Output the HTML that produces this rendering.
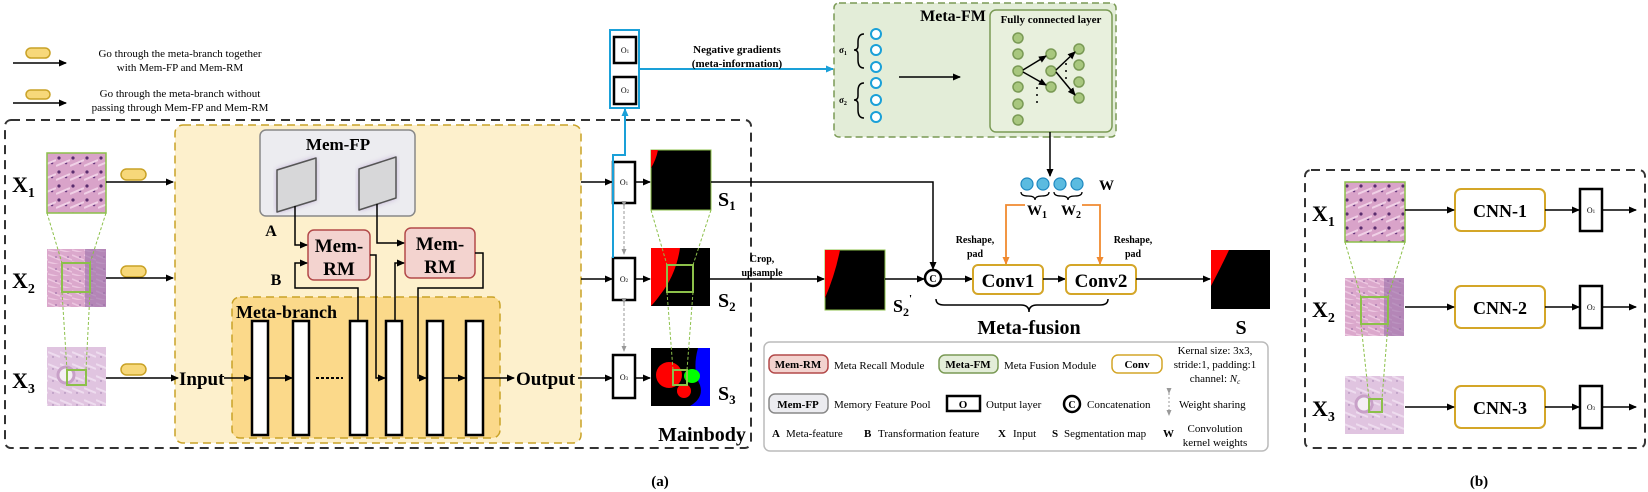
<!DOCTYPE html>
<html><head><meta charset="utf-8"><style>
html,body{margin:0;padding:0;background:#fff;}
svg{display:block;font-family:"Liberation Serif",serif;}
.b{font-weight:bold;}
</style></head><body>
<svg width="1648" height="492" viewBox="0 0 1648 492" xmlns="http://www.w3.org/2000/svg">
<defs>
<marker id="ar" markerWidth="8" markerHeight="8" refX="7" refY="4" orient="auto" markerUnits="userSpaceOnUse"><path d="M0,0.5 L8,4 L0,7.5z" fill="#000"/></marker>
<marker id="arb" markerWidth="8" markerHeight="8" refX="7" refY="4" orient="auto" markerUnits="userSpaceOnUse"><path d="M0,0.5 L8,4 L0,7.5z" fill="#1aa0d8"/></marker>
<marker id="aro" markerWidth="8" markerHeight="8" refX="7" refY="4" orient="auto" markerUnits="userSpaceOnUse"><path d="M0,0.5 L8,4 L0,7.5z" fill="#f08a30"/></marker>
<marker id="arg" markerWidth="6" markerHeight="6" refX="5" refY="3" orient="auto" markerUnits="userSpaceOnUse"><path d="M0,0.5 L6,3 L0,5.5z" fill="#999"/></marker>
<pattern id="h1" width="14" height="14" patternUnits="userSpaceOnUse"><rect width="14" height="14" fill="#d9a3c9"/><circle cx="3" cy="4" r="1.6" fill="#5a2d6e"/><circle cx="10" cy="9" r="1.3" fill="#6b3a80"/><path d="M0,12 L14,6" stroke="#f0d0e6" stroke-width="2"/></pattern>
<pattern id="h2" width="12" height="12" patternUnits="userSpaceOnUse"><rect width="12" height="12" fill="#dba8cc"/><path d="M0,3 L12,8 M0,10 L12,13" stroke="#ecc6e0" stroke-width="1.5"/><circle cx="8" cy="5" r="0.8" fill="#8a5a9a"/></pattern>
<pattern id="h3" width="12" height="12" patternUnits="userSpaceOnUse"><rect width="12" height="12" fill="#e0c4e0"/><path d="M0,4 L12,9" stroke="#eedcef" stroke-width="2"/><circle cx="5" cy="9" r="0.7" fill="#9a7aaa"/></pattern>
<filter id="gl"><feGaussianBlur stdDeviation="3"/></filter>
</defs>

<!-- top-left legend -->
<rect x="26" y="48" width="24" height="10" rx="5" fill="#f7d87a" stroke="#c9a227" stroke-width="1.5"/>
<line x1="13" y1="63" x2="66" y2="63" stroke="#000" stroke-width="1.5" marker-end="url(#ar)"/>
<text x="180" y="57" font-size="11" text-anchor="middle">Go through the meta-branch together</text>
<text x="180" y="71" font-size="11" text-anchor="middle">with Mem-FP and Mem-RM</text>
<rect x="26" y="90" width="24" height="9" rx="4.5" fill="#f7d87a" stroke="#c9a227" stroke-width="1.5"/>
<line x1="13" y1="103" x2="66" y2="103" stroke="#000" stroke-width="1.5" marker-end="url(#ar)"/>
<text x="180" y="97" font-size="11" text-anchor="middle">Go through the meta-branch without</text>
<text x="180" y="111" font-size="11" text-anchor="middle">passing through Mem-FP and Mem-RM</text>

<!-- Mainbody -->
<rect x="5" y="120" width="746" height="328" rx="6" fill="none" stroke="#333" stroke-width="2" stroke-dasharray="9,6"/>
<text x="702" y="441" font-size="20" class="b" text-anchor="middle">Mainbody</text>
<rect x="175" y="125" width="406" height="318" rx="8" fill="#fdf0cc" stroke="#c9a227" stroke-width="1.5" stroke-dasharray="8,5"/>
<rect x="232" y="297" width="268" height="141" rx="8" fill="#fbd98a" stroke="#c9a227" stroke-width="1.5" stroke-dasharray="8,5"/>
<text x="236" y="318" font-size="18" class="b">Meta-branch</text>

<!-- Mem-FP -->
<rect x="260" y="130" width="155" height="86" rx="6" fill="#ececf0" stroke="#888" stroke-width="1.5"/>
<text x="338" y="150" font-size="17" class="b" text-anchor="middle">Mem-FP</text>
<polygon points="277,170 316,158 316,200 277,212" fill="#b9a4d0" filter="url(#gl)"/>
<polygon points="277,170 316,158 316,200 277,212" fill="#d7d7d9" stroke="#555" stroke-width="1.5" stroke-linejoin="round"/>
<polygon points="359,169 396,157 396,198 359,210" fill="#b9a4d0" filter="url(#gl)"/>
<polygon points="359,169 396,157 396,198 359,210" fill="#d7d7d9" stroke="#555" stroke-width="1.5" stroke-linejoin="round"/>
<text x="271" y="236" font-size="16" class="b" text-anchor="middle">A</text>
<text x="276" y="285" font-size="16" class="b" text-anchor="middle">B</text>

<!-- Mem-RM -->
<rect x="308" y="230" width="62" height="50" rx="6" fill="#f3d3cf" stroke="#b34a4a" stroke-width="1.5"/>
<text x="339" y="252" font-size="19" class="b" text-anchor="middle">Mem-</text>
<text x="339" y="275" font-size="19" class="b" text-anchor="middle">RM</text>
<rect x="405" y="228" width="70" height="50" rx="6" fill="#f3d3cf" stroke="#b34a4a" stroke-width="1.5"/>
<text x="440" y="250" font-size="19" class="b" text-anchor="middle">Mem-</text>
<text x="440" y="273" font-size="19" class="b" text-anchor="middle">RM</text>

<g fill="none" stroke="#000" stroke-width="1.5">
<path d="M295,206 V245 H307" marker-end="url(#ar)"/>
<path d="M377,204 V243 H404" marker-end="url(#ar)"/>
<path d="M358,321 V288 H295 V263 H307" marker-end="url(#ar)"/>
<path d="M370,255 H376 V378 H385" marker-end="url(#ar)"/>
<path d="M395,321 V263 H404" marker-end="url(#ar)"/>
<path d="M475,253 H483 V288 H418 V378 H426" marker-end="url(#ar)"/>
</g>

<!-- bars -->
<g fill="#fff" stroke="#000" stroke-width="2.5">
<rect x="252" y="321" width="16" height="114"/>
<rect x="293" y="321" width="16" height="114"/>
<rect x="350" y="321" width="17" height="114"/>
<rect x="386" y="321" width="16" height="114"/>
<rect x="427" y="321" width="16" height="114"/>
<rect x="466" y="321" width="17" height="114"/>
</g>
<text x="179" y="385" font-size="19" class="b">Input</text>
<text x="516" y="385" font-size="19" class="b">Output</text>
<g stroke="#000" stroke-width="1.5" marker-end="url(#ar)">
<line x1="224" y1="378" x2="251" y2="378"/>
<line x1="268" y1="378" x2="292" y2="378"/>
<line x1="443" y1="378" x2="465" y2="378"/>
<line x1="483" y1="378" x2="514" y2="378"/>
</g>
<line x1="316" y1="378" x2="343" y2="378" stroke="#000" stroke-width="2" stroke-dasharray="3,2"/>

<!-- inputs -->
<rect x="47" y="153" width="59" height="60" fill="url(#h1)" stroke="#8cc04a" stroke-width="1.5"/>
<rect x="47" y="249" width="59" height="58" fill="url(#h2)"/>
<rect x="85" y="249" width="21" height="58" fill="#9a6fa8" opacity="0.6"/>
<rect x="47" y="347" width="59" height="59" fill="url(#h3)"/>
<circle cx="66" cy="375" r="8" fill="#f4eef4" stroke="#c8a0c8" stroke-width="3"/>
<rect x="62" y="263" width="28" height="29" fill="none" stroke="#8cc04a" stroke-width="2"/>
<rect x="67" y="370" width="19" height="15" fill="none" stroke="#8cc04a" stroke-width="2"/>
<g stroke="#8cc04a" stroke-width="1" stroke-dasharray="3,2" fill="none">
<line x1="47" y1="213" x2="62" y2="263"/><line x1="106" y1="213" x2="90" y2="263"/>
<line x1="62" y1="292" x2="67" y2="370"/><line x1="90" y1="292" x2="86" y2="370"/>
</g>
<g class="b" font-size="22">
<text x="12" y="192">X<tspan font-size="14" dy="5">1</tspan></text>
<text x="12" y="288">X<tspan font-size="14" dy="5">2</tspan></text>
<text x="12" y="388">X<tspan font-size="14" dy="5">3</tspan></text>
</g>
<g fill="#f7d87a" stroke="#c9a227" stroke-width="1.5">
<rect x="121" y="169" width="25" height="11" rx="5.5"/>
<rect x="121" y="266" width="25" height="11" rx="5.5"/>
<rect x="121" y="364" width="25" height="11" rx="5.5"/>
</g>
<g stroke="#000" stroke-width="1.5" marker-end="url(#ar)">
<line x1="106" y1="182" x2="173" y2="182"/>
<line x1="106" y1="278" x2="173" y2="278"/>
<line x1="106" y1="378" x2="178" y2="378"/>
<line x1="581" y1="182" x2="612" y2="182"/>
<line x1="581" y1="279" x2="612" y2="279"/>
<line x1="578" y1="378" x2="612" y2="378"/>
<line x1="636" y1="182" x2="650" y2="182"/>
<line x1="636" y1="279" x2="650" y2="279"/>
<line x1="636" y1="378" x2="650" y2="378"/>
</g>

<!-- O boxes -->
<g fill="#fff" stroke="#000" stroke-width="2.5">
<rect x="613" y="162" width="22" height="41"/>
<rect x="613" y="258" width="22" height="42"/>
<rect x="613" y="355" width="22" height="43"/>
</g>
<g font-size="8" text-anchor="middle">
<text x="624" y="185">O<tspan font-size="5">1</tspan></text>
<text x="624" y="282">O<tspan font-size="5">2</tspan></text>
<text x="624" y="380">O<tspan font-size="5">3</tspan></text>
</g>
<g stroke="#999" stroke-width="1" stroke-dasharray="3,2">
<line x1="624" y1="206" x2="624" y2="254" marker-start="url(#arg)" marker-end="url(#arg)"/>
<line x1="624" y1="303" x2="624" y2="351" marker-start="url(#arg)" marker-end="url(#arg)"/>
</g>

<!-- S maps -->
<rect x="651" y="150" width="60" height="60" fill="#000" stroke="#8cc04a" stroke-width="1"/>
<path d="M651,150 H658 Q656,160 651,168 Z" fill="#f00"/>
<rect x="651" y="248" width="59" height="58" fill="#000"/>
<path d="M651,248 H680 Q676,275 660,295 Q655,302 651,306 Z" fill="#f00"/>
<rect x="667" y="265" width="26" height="27" fill="none" stroke="#8cc04a" stroke-width="2"/>
<rect x="651" y="348" width="59" height="58" fill="#000"/>
<path d="M698,348 H710 V406 H690 Q704,398 700,385 Q692,370 698,348Z" fill="#00f"/>
<circle cx="669" cy="375" r="13" fill="#f00"/>
<circle cx="684" cy="391" r="7" fill="#f00"/>
<ellipse cx="692" cy="376" rx="8" ry="7" fill="#0f0"/>
<rect x="673" y="370" width="14" height="15" fill="none" stroke="#8cc04a" stroke-width="2"/>
<g stroke="#8cc04a" stroke-width="1" stroke-dasharray="3,2" fill="none">
<line x1="651" y1="210" x2="667" y2="265"/><line x1="711" y1="210" x2="693" y2="265"/>
<line x1="667" y1="292" x2="673" y2="370"/><line x1="693" y1="292" x2="687" y2="370"/>
</g>
<g class="b" font-size="20">
<text x="718" y="206">S<tspan font-size="13" dy="4">1</tspan></text>
<text x="718" y="307">S<tspan font-size="13" dy="4">2</tspan></text>
<text x="718" y="400">S<tspan font-size="13" dy="4">3</tspan></text>
</g>

<!-- blue path & top O box -->
<path d="M613,258 V155 H625 V109" fill="none" stroke="#1aa0d8" stroke-width="2" marker-end="url(#arb)"/>
<rect x="610" y="30" width="29" height="78" fill="#fff" stroke="#1aa0d8" stroke-width="2"/>
<rect x="614" y="37" width="22" height="26" fill="#fff" stroke="#000" stroke-width="2.5"/>
<rect x="614" y="77" width="22" height="27" fill="#fff" stroke="#000" stroke-width="2.5"/>
<text x="625" y="53" font-size="8" text-anchor="middle">O<tspan font-size="5">1</tspan></text>
<text x="625" y="93" font-size="8" text-anchor="middle">O<tspan font-size="5">2</tspan></text>
<line x1="639" y1="69" x2="833" y2="69" stroke="#1aa0d8" stroke-width="2" marker-end="url(#arb)"/>
<text x="737" y="53" font-size="11" class="b" text-anchor="middle">Negative gradients</text>
<text x="737" y="67" font-size="11" class="b" text-anchor="middle">(meta-information)</text>

<!-- Meta-FM -->
<rect x="834" y="3" width="282" height="134" rx="5" fill="#e3edd8" stroke="#7a9a55" stroke-width="1.5" stroke-dasharray="7,4"/>
<text x="953" y="21" font-size="16" class="b" text-anchor="middle">Meta-FM</text>
<rect x="990" y="10" width="122" height="122" rx="6" fill="#e8f0dd" stroke="#7a9a55" stroke-width="1.5"/>
<text x="1051" y="23" font-size="11" class="b" text-anchor="middle">Fully connected layer</text>
<g fill="#fff" stroke="#1aa0d8" stroke-width="2">
<circle cx="876" cy="34" r="5"/><circle cx="876" cy="50" r="5"/><circle cx="876" cy="67" r="5"/>
<circle cx="876" cy="83" r="5"/><circle cx="876" cy="100" r="5"/><circle cx="876" cy="117" r="5"/>
</g>
<path d="M864,34 Q858,34 858,42 V46 Q858,50 854,50 Q858,50 858,54 V60 Q858,68 864,68" fill="none" stroke="#000" stroke-width="1.5"/>
<path d="M864,83 Q858,83 858,91 V96 Q858,100 854,100 Q858,100 858,104 V110 Q858,118 864,118" fill="none" stroke="#000" stroke-width="1.5"/>
<text x="839" y="53" font-size="9" class="b">σ<tspan font-size="6" dy="2">1</tspan></text>
<text x="839" y="103" font-size="9" class="b">σ<tspan font-size="6" dy="2">2</tspan></text>
<line x1="899" y1="77" x2="960" y2="77" stroke="#000" stroke-width="1.5" marker-end="url(#ar)"/>
<g fill="#a8c77e" stroke="#7a9a55" stroke-width="1.5">
<circle cx="1018" cy="38" r="5"/><circle cx="1018" cy="54" r="5"/><circle cx="1018" cy="71" r="5"/>
<circle cx="1018" cy="87" r="5"/><circle cx="1018" cy="104" r="5"/><circle cx="1018" cy="120" r="5"/>
<circle cx="1051" cy="54" r="5"/><circle cx="1051" cy="71" r="5"/><circle cx="1051" cy="87" r="5"/>
<circle cx="1079" cy="49" r="5"/><circle cx="1079" cy="65" r="5"/><circle cx="1079" cy="82" r="5"/><circle cx="1079" cy="98" r="5"/>
</g>
<g stroke="#000" stroke-width="1.5" marker-end="url(#ar)">
<line x1="1023" y1="70" x2="1046" y2="56"/><line x1="1023" y1="72" x2="1046" y2="85"/>
<line x1="1056" y1="70" x2="1075" y2="52"/><line x1="1056" y1="72" x2="1075" y2="95"/>
</g>
<g fill="#000"><circle cx="1037" cy="88" r="1"/><circle cx="1037" cy="95" r="1"/><circle cx="1037" cy="102" r="1"/>
<circle cx="1066" cy="64" r="1"/><circle cx="1066" cy="71" r="1"/><circle cx="1066" cy="78" r="1"/></g>
<line x1="1050" y1="132" x2="1050" y2="176" stroke="#000" stroke-width="1.5" marker-end="url(#ar)"/>

<!-- W -->
<g fill="#5bbbe0" stroke="#1e88c0" stroke-width="1.2">
<circle cx="1027" cy="184" r="6"/><circle cx="1043" cy="184" r="6"/><circle cx="1060" cy="184" r="6"/><circle cx="1077" cy="184" r="6"/>
</g>
<text x="1099" y="190" font-size="15" class="b">W</text>
<path d="M1021,192 Q1021,196 1028,196 Q1035,196 1035,200 Q1035,196 1042,196 Q1049,196 1049,192" fill="none" stroke="#000" stroke-width="1.3"/>
<path d="M1054,192 Q1054,196 1061,196 Q1068,196 1068,200 Q1068,196 1075,196 Q1082,196 1082,192" fill="none" stroke="#000" stroke-width="1.3"/>
<text x="1027" y="215" font-size="15" class="b">W<tspan font-size="10" dy="3">1</tspan></text>
<text x="1061" y="215" font-size="15" class="b">W<tspan font-size="10" dy="3">2</tspan></text>
<path d="M1025,205 H1006 V264" fill="none" stroke="#f08a30" stroke-width="1.8" marker-end="url(#aro)"/>
<path d="M1082,205 H1100 V264" fill="none" stroke="#f08a30" stroke-width="1.8" marker-end="url(#aro)"/>
<text x="975" y="243" font-size="10" class="b" text-anchor="middle">Reshape,</text>
<text x="975" y="257" font-size="10" class="b" text-anchor="middle">pad</text>
<text x="1133" y="243" font-size="10" class="b" text-anchor="middle">Reshape,</text>
<text x="1133" y="257" font-size="10" class="b" text-anchor="middle">pad</text>

<!-- fusion -->
<path d="M711,182 H933 V269" fill="none" stroke="#000" stroke-width="1.5" marker-end="url(#ar)"/>
<line x1="710" y1="279" x2="824" y2="279" stroke="#000" stroke-width="1.5" marker-end="url(#ar)"/>
<text x="762" y="262" font-size="10" class="b" text-anchor="middle">Crop,</text>
<text x="762" y="276" font-size="10" class="b" text-anchor="middle">upsample</text>
<rect x="825" y="250" width="60" height="60" fill="#000" stroke="#8cc04a" stroke-width="1"/>
<path d="M825,250 H840 Q835,275 825,298 Z" fill="#f00"/>
<text x="893" y="312" font-size="18" class="b">S<tspan font-size="12" dy="4">2</tspan><tspan font-size="11" dy="-14">'</tspan></text>
<line x1="885" y1="279" x2="924" y2="279" stroke="#000" stroke-width="1.5" marker-end="url(#ar)"/>
<circle cx="933" cy="278" r="8" fill="#fff" stroke="#000" stroke-width="2.5"/>
<text x="933" y="282" font-size="10" class="b" text-anchor="middle">C</text>
<line x1="941" y1="279" x2="972" y2="279" stroke="#000" stroke-width="1.5" marker-end="url(#ar)"/>
<rect x="973" y="265" width="70" height="29" rx="5" fill="#fff" stroke="#d4a628" stroke-width="2"/>
<text x="1008" y="287" font-size="19" class="b" text-anchor="middle">Conv1</text>
<line x1="1043" y1="279" x2="1065" y2="279" stroke="#000" stroke-width="1.5" marker-end="url(#ar)"/>
<rect x="1066" y="265" width="70" height="29" rx="5" fill="#fff" stroke="#d4a628" stroke-width="2"/>
<text x="1101" y="287" font-size="19" class="b" text-anchor="middle">Conv2</text>
<line x1="1136" y1="279" x2="1210" y2="279" stroke="#000" stroke-width="1.5" marker-end="url(#ar)"/>
<path d="M936,299 Q936,305 944,305 H1021 Q1029,305 1029,312 Q1029,305 1037,305 H1100 Q1108,305 1108,299" fill="none" stroke="#000" stroke-width="1.5"/>
<text x="1029" y="334" font-size="20" class="b" text-anchor="middle">Meta-fusion</text>
<rect x="1211" y="250" width="59" height="59" fill="#000"/>
<path d="M1211,250 H1229 Q1222,265 1211,286 Z" fill="#f00"/>
<text x="1241" y="334" font-size="20" class="b" text-anchor="middle">S</text>

<!-- legend box -->
<rect x="764" y="342" width="504" height="109" rx="6" fill="#fff" stroke="#bbb" stroke-width="1.5"/>
<g font-size="11">
<rect x="769" y="355" width="59" height="18" rx="6" fill="#f3d3cf" stroke="#b34a4a" stroke-width="1.5"/>
<text x="798" y="368" class="b" text-anchor="middle">Mem-RM</text>
<text x="834" y="369">Meta Recall Module</text>
<rect x="939" y="355" width="59" height="18" rx="6" fill="#e3edd8" stroke="#7a9a55" stroke-width="1.5"/>
<text x="968" y="368" class="b" text-anchor="middle">Meta-FM</text>
<text x="1004" y="369">Meta Fusion Module</text>
<rect x="1112" y="355" width="50" height="18" rx="6" fill="#fff" stroke="#d4a628" stroke-width="1.5"/>
<text x="1137" y="368" class="b" text-anchor="middle">Conv</text>
<text x="1215" y="354" text-anchor="middle">Kernal  size: 3x3,</text>
<text x="1215" y="368" text-anchor="middle">stride:1, padding:1</text>
<text x="1215" y="382" text-anchor="middle">channel: <tspan font-style="italic">N<tspan font-size="7" dy="2">c</tspan></tspan></text>
<rect x="769" y="394" width="59" height="19" rx="6" fill="#ececf0" stroke="#888" stroke-width="1.5"/>
<text x="798" y="408" class="b" text-anchor="middle">Mem-FP</text>
<text x="834" y="408">Memory Feature Pool</text>
<rect x="947" y="396" width="33" height="15" fill="#fff" stroke="#000" stroke-width="2.5"/>
<text x="963" y="408" class="b" text-anchor="middle">O</text>
<text x="986" y="408">Output layer</text>
<circle cx="1072" cy="404" r="8" fill="#fff" stroke="#000" stroke-width="2.5"/>
<text x="1072" y="408" font-size="10" class="b" text-anchor="middle">C</text>
<text x="1087" y="408">Concatenation</text>
<line x1="1169" y1="393" x2="1169" y2="415" stroke="#999" stroke-width="1" stroke-dasharray="2,2" marker-start="url(#arg)" marker-end="url(#arg)"/>
<text x="1179" y="408">Weight sharing</text>
<text x="772" y="437" class="b">A</text><text x="786" y="437">Meta-feature</text>
<text x="864" y="437" class="b">B</text><text x="878" y="437">Transformation feature</text>
<text x="998" y="437" class="b">X</text><text x="1013" y="437">Input</text>
<text x="1052" y="437" class="b">S</text><text x="1064" y="437">Segmentation map</text>
<text x="1163" y="437" class="b">W</text>
<text x="1215" y="432" text-anchor="middle">Convolution</text>
<text x="1215" y="446" text-anchor="middle">kernel weights</text>
</g>
<text x="660" y="486" font-size="15" class="b" text-anchor="middle">(a)</text>

<!-- panel b -->
<rect x="1305" y="170" width="340" height="278" rx="6" fill="none" stroke="#333" stroke-width="2" stroke-dasharray="9,6"/>
<rect x="1345" y="182" width="60" height="60" fill="url(#h1)" stroke="#8cc04a" stroke-width="1.5"/>
<rect x="1345" y="278" width="59" height="58" fill="url(#h2)"/>
<rect x="1384" y="278" width="20" height="58" fill="#9a6fa8" opacity="0.6"/>
<rect x="1345" y="376" width="59" height="58" fill="url(#h3)"/>
<circle cx="1364" cy="404" r="8" fill="#f4eef4" stroke="#c8a0c8" stroke-width="3"/>
<rect x="1361" y="297" width="27" height="27" fill="none" stroke="#8cc04a" stroke-width="2"/>
<rect x="1369" y="399" width="13" height="13" fill="none" stroke="#8cc04a" stroke-width="2"/>
<g stroke="#8cc04a" stroke-width="1" stroke-dasharray="3,2" fill="none">
<line x1="1345" y1="242" x2="1361" y2="297"/><line x1="1405" y1="242" x2="1388" y2="297"/>
<line x1="1361" y1="324" x2="1369" y2="399"/><line x1="1388" y1="324" x2="1382" y2="399"/>
</g>
<g class="b" font-size="22">
<text x="1312" y="221">X<tspan font-size="14" dy="5">1</tspan></text>
<text x="1312" y="317">X<tspan font-size="14" dy="5">2</tspan></text>
<text x="1312" y="416">X<tspan font-size="14" dy="5">3</tspan></text>
</g>
<g fill="#fff" stroke="#d4a628" stroke-width="2">
<rect x="1455" y="189" width="90" height="42" rx="6"/>
<rect x="1455" y="286" width="90" height="42" rx="6"/>
<rect x="1455" y="386" width="90" height="42" rx="6"/>
</g>
<g class="b" font-size="18" text-anchor="middle">
<text x="1500" y="217">CNN-1</text><text x="1500" y="314">CNN-2</text><text x="1500" y="414">CNN-3</text>
</g>
<g fill="#fff" stroke="#000" stroke-width="2.5">
<rect x="1580" y="189" width="22" height="42"/>
<rect x="1580" y="286" width="22" height="42"/>
<rect x="1580" y="386" width="22" height="42"/>
</g>
<g font-size="8" text-anchor="middle">
<text x="1591" y="213">O<tspan font-size="5">1</tspan></text>
<text x="1591" y="310">O<tspan font-size="5">2</tspan></text>
<text x="1591" y="410">O<tspan font-size="5">3</tspan></text>
</g>
<g stroke="#000" stroke-width="1.5" marker-end="url(#ar)">
<line x1="1405" y1="210" x2="1454" y2="210"/><line x1="1405" y1="307" x2="1454" y2="307"/><line x1="1405" y1="407" x2="1454" y2="407"/>
<line x1="1545" y1="210" x2="1579" y2="210"/><line x1="1545" y1="307" x2="1579" y2="307"/><line x1="1545" y1="407" x2="1579" y2="407"/>
<line x1="1602" y1="210" x2="1636" y2="210"/><line x1="1602" y1="307" x2="1636" y2="307"/><line x1="1602" y1="407" x2="1636" y2="407"/>
</g>
<text x="1479" y="486" font-size="15" class="b" text-anchor="middle">(b)</text>
</svg>
</body></html>
